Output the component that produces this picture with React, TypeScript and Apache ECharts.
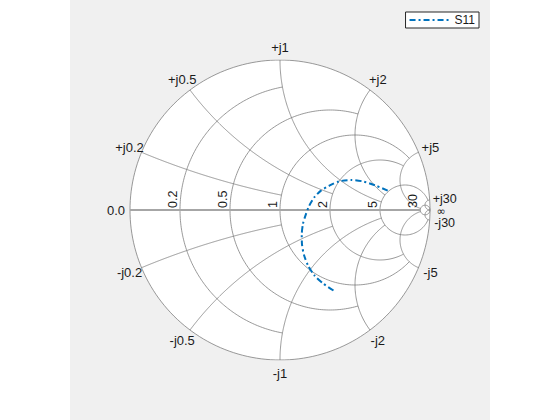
import { useEffect, useRef } from 'react';
import * as echarts from 'echarts';

// grid circles: value and where each line stops (MATLAB smithplot style)
const gridValues = [0.2, 0.5, 1, 2, 5, 30];
const gridLimits = [1, 2, 5, 5, 30, Infinity];
const resistanceLabels = ['0.2', '0.5', '1', '2', '5', '30'];
const reactanceLabels = ['j0.2', 'j0.5', 'j1', 'j2', 'j5', 'j30'];

const s11Real = [0.718, 0.64, 0.551, 0.473, 0.395, 0.329, 0.273, 0.229, 0.195, 0.173, 0.153, 0.145, 0.147, 0.16, 0.187, 0.23, 0.287, 0.357];
const s11Imag = [0.129, 0.162, 0.191, 0.2, 0.191, 0.162, 0.129, 0.085, 0.029, -0.027, -0.093, -0.167, -0.233, -0.3, -0.37, -0.437, -0.49, -0.537];

const FONT = 'Arial, "Liberation Sans", Helvetica, sans-serif';
const GRID_COLOR = '#7f7f7f';
const TEXT_COLOR = '#1a1a1a';

// z -> (z-1)/(z+1)
function gamma(r: number, x: number): [number, number] {
  const a = r - 1;
  const c = r + 1;
  const den = c * c + x * x;
  return [(a * c + x * x) / den, (x * c - a * x) / den];
}

const TWO_PI = Math.PI * 2;
const norm = (a: number) => ((a % TWO_PI) + TWO_PI) % TWO_PI;

function resistanceCircle(r: number, limit: number) {
  const c = r / (1 + r);
  const rho = 1 / (1 + r);
  let start = 0;
  if (isFinite(limit)) {
    const [gr, gi] = gamma(r, limit);
    start = Math.atan2(gi, gr - c);
  }
  const pts: number[][] = [];
  const n = 200;
  for (let i = 0; i <= n; i++) {
    const phi = start + ((TWO_PI - 2 * start) * i) / n;
    pts.push([c + rho * Math.cos(phi), rho * Math.sin(phi)]);
  }
  return pts;
}

function reactanceArc(x: number, limit: number, sign: number) {
  const cy = 1 / x;
  const rho = 1 / x;
  const [g0r, g0i] = gamma(0, x);
  const a0 = norm(Math.atan2(g0i - cy, g0r - 1));
  let a1 = 1.5 * Math.PI;
  if (isFinite(limit)) {
    const [gr, gi] = gamma(limit, x);
    a1 = norm(Math.atan2(gi - cy, gr - 1));
  }
  const pts: number[][] = [];
  const n = 200;
  for (let i = 0; i <= n; i++) {
    const a = a0 + ((a1 - a0) * i) / n;
    pts.push([1 + rho * Math.cos(a), sign * (cy + rho * Math.sin(a))]);
  }
  return pts;
}

function gridSeries(data: number[][], color = GRID_COLOR, width = 0.8) {
  return {
    type: 'line',
    data,
    symbol: 'none',
    silent: true,
    z: 2,
    lineStyle: { color, width },
  };
}

function App() {
  const chartRef = useRef<HTMLDivElement>(null);

  useEffect(() => {
    const chart = echarts.init(chartRef.current, null, { renderer: 'svg' });

    const series: any[] = [];
    series.push(gridSeries(resistanceCircle(0, Infinity)));
    gridValues.forEach((v, i) => {
      series.push(gridSeries(resistanceCircle(v, gridLimits[i])));
      series.push(gridSeries(reactanceArc(v, gridLimits[i], 1)));
      series.push(gridSeries(reactanceArc(v, gridLimits[i], -1)));
    });
    const lastR = gridValues[gridValues.length - 1];
    series.push(gridSeries([[-1, 0], [(lastR - 1) / (lastR + 1), 0]], '#a6a6a6', 2));

    series.push({
      name: 'S11',
      type: 'line',
      data: s11Real.map((re, i) => [re, s11Imag[i]]),
      symbol: 'none',
      smooth: 0.25,
      z: 3,
      lineStyle: { color: '#0072BD', width: 2, type: [6, 3, 2, 3] },
      itemStyle: { color: '#0072BD' },
    });

    chart.setOption({
      animation: false,
      grid: { left: 130, top: 60, width: 300, height: 300 },
      xAxis: { type: 'value', min: -1, max: 1, show: false },
      yAxis: { type: 'value', min: -1, max: 1, show: false },
      legend: {
        data: ['S11'],
        top: 12,
        right: 81,
        itemWidth: 40,
        itemHeight: 12,
        padding: [2, 4, 2, 3],
        backgroundColor: '#ffffff',
        borderColor: '#262626',
        borderWidth: 1,
        borderRadius: 0,
        itemStyle: { opacity: 0 },
        textStyle: { fontSize: 12, color: TEXT_COLOR, fontFamily: FONT },
      },
      series,
    });

    const toPx = (p: number[]) => chart.convertToPixel({ gridIndex: 0 }, p) as number[];
    const centre = toPx([0, 0]);
    const radius = toPx([1, 0])[0] - centre[0];

    const graphics: any[] = [
      { type: 'rect', shape: { x: 70, y: 0, width: 420, height: 420 }, style: { fill: '#f0f0f0' }, z: -10, silent: true },
      { type: 'circle', shape: { cx: centre[0], cy: centre[1], r: radius }, style: { fill: '#ffffff' }, z: -5, silent: true },
    ];

    const label = (text: string, p: number[], u: number[], d: number, dy = 0, size = 13, lh = 13, font = FONT) => ({
      type: 'text',
      x: p[0] + u[0] * d,
      y: p[1] + u[1] * d + dy,
      z: 10,
      silent: true,
      style: {
        text,
        fontSize: size,
        lineHeight: lh,
        fontFamily: font,
        fill: TEXT_COLOR,
        align: 'center',
        verticalAlign: 'middle',
      },
    });

    const last = gridValues.length - 1;
    gridValues.forEach((v, i) => {
      [1, -1].forEach((sign) => {
        const g = gamma(0, sign * v);
        const p = toPx(g);
        const lbl = (sign > 0 ? '+' : '-') + reactanceLabels[i];
        if (i === last) {
          // the three labels at the right end are packed tightly
          graphics.push(label(lbl, p, [g[0], -g[1]], 15, sign > 0 ? 0 : 2, 12.5, 12));
        } else {
          graphics.push(label(lbl, p, [g[0], -g[1]], 13));
        }
      });
      const left = toPx([(v - 1) / (v + 1), 0]);
      graphics.push({
        type: 'text',
        x: left[0] - 1,
        y: left[1] - 2,
        rotation: Math.PI / 2,
        z: 10,
        silent: true,
        style: { text: resistanceLabels[i], fontSize: 12.5, fontFamily: FONT, fill: TEXT_COLOR, align: 'left', verticalAlign: 'bottom' },
      });
    });
    graphics.push(label('0.0', toPx([-1, 0]), [-1, 0], 14));
    graphics.push(label('\u221e', toPx([1, 0]), [1, 0], 11, 1, 11, 10, '"DejaVu Sans", sans-serif'));

    chart.setOption({ graphic: graphics });

    return () => {
      chart.dispose();
    };
  }, []);

  return <div ref={chartRef} style={{ position: 'absolute', left: 0, top: 0, width: '560px', height: '420px' }}></div>;
}

export default App;
